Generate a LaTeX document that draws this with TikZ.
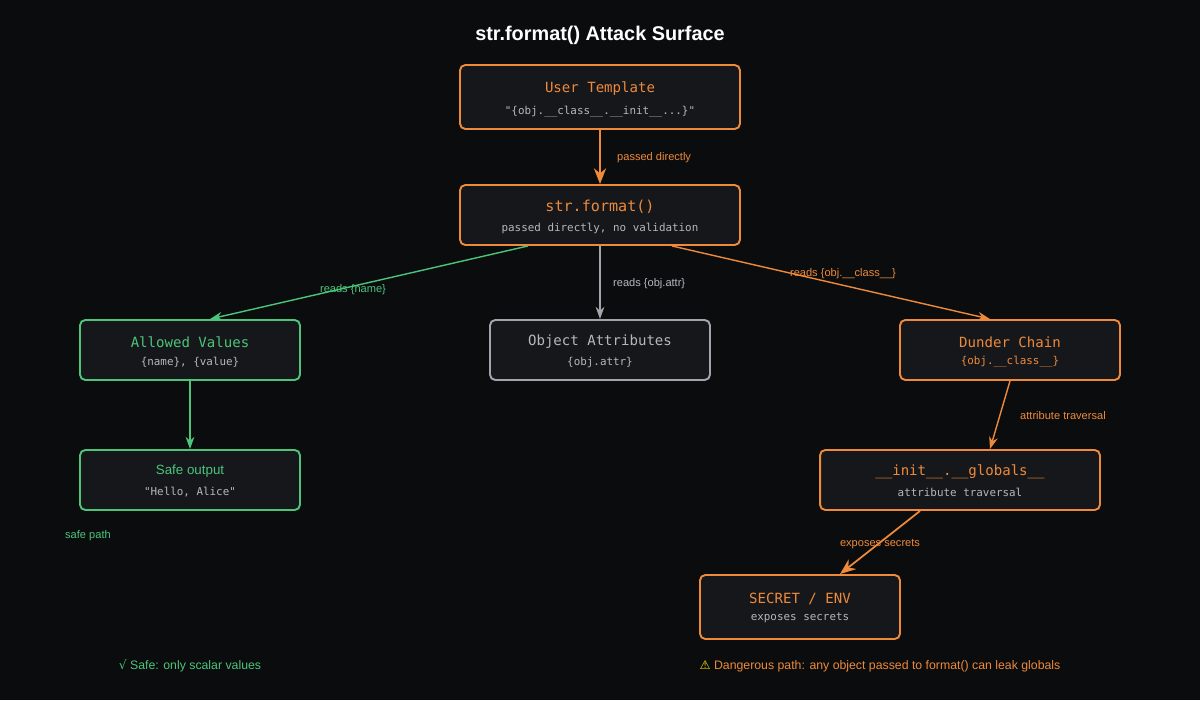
\documentclass[tikz,border=0pt]{standalone}
\usepackage{fontspec}
\setmainfont{Liberation Sans}
\newfontfamily\mono{DejaVu Sans Mono}
\newfontfamily\sym{DejaVu Sans}
\usetikzlibrary{arrows.meta}

\definecolor{bgc}{HTML}{0B0C0E}
\definecolor{boxc}{HTML}{15171B}
\definecolor{orng}{HTML}{EE8A3A}
\definecolor{grn}{HTML}{4CC47A}
\definecolor{gry}{HTML}{A2A6AC}
\definecolor{subc}{HTML}{B4B7BC}

\tikzset{
  box/.style={draw=#1, fill=boxc, line width=1.1pt, rounded corners=3pt,
    minimum width=4.4cm, minimum height=1.2cm, align=center, inner sep=0pt},
  ttl/.style={font=\mono\fontsize{8}{10}\selectfont},
  sub/.style={font=\mono\fontsize{6.2}{8}\selectfont, text=subc},
  lbl/.style={font=\fontsize{6.3}{8}\selectfont},
  big/.style={-{Stealth[length=9pt,width=7pt]}, line width=1pt},
  small/.style={-{Stealth[length=7pt,width=5pt]}, line width=0.8pt}
}

\begin{document}
\begin{tikzpicture}[x=0.02cm,y=-0.02cm]

% Background
\fill[bgc] (0,0) rectangle (1200,700);

% Title
\node[font=\bfseries\fontsize{11.3}{13}\selectfont, text=white] (title) at (600,35) {str.format() Attack Surface};

% Boxes
\node[box=orng, minimum width=5.6cm, minimum height=1.28cm] (tmpl) at (600,97) {};
\node[ttl, text=orng] at (600,89) {User Template};
\node[sub] at (600,112) {"\{obj.\_\_class\_\_.\_\_init\_\_...\}"};

\node[box=orng, minimum width=5.6cm] (fmt) at (600,215) {};
\node[ttl, text=orng, font=\mono\fontsize{8.6}{10}\selectfont] at (600,207) {str.format()};
\node[sub] at (600,228) {passed directly, no validation};

\node[box=grn] (allowed) at (190,350) {};
\node[ttl, text=grn] at (190,342) {Allowed Values};
\node[sub] at (190,362) {\{name\}, \{value\}};

\node[box=gry] (attrs) at (600,350) {};
\node[ttl, text=subc] at (600,342) {Object Attributes};
\node[sub] at (600,362) {\{obj.attr\}};

\node[box=orng] (dunder) at (1010,350) {};
\node[ttl, text=orng] at (1010,342) {Dunder Chain};
\node[sub, text=orng] at (1010,362) {\{obj.\_\_class\_\_\}};

\node[box=grn] (safe) at (190,480) {};
\node[lbl, text=grn, font=\fontsize{7.6}{9}\selectfont] at (190,471) {Safe output};
\node[sub] at (190,492) {"Hello, Alice"};

\node[box=orng, minimum width=5.6cm] (glob) at (960,480) {};
\node[ttl, text=orng] at (960,472) {\_\_init\_\_.\_\_globals\_\_};
\node[sub] at (960,492) {attribute traversal};

\node[box=orng, minimum width=4cm, minimum height=1.28cm] (secret) at (800,607) {};
\node[ttl, text=orng] at (800,599) {SECRET / ENV};
\node[sub] at (800,618) {exposes secrets};

% Connectors
\draw[big, orng] (tmpl) -- (fmt);
\draw[small, grn] ([xshift=-1.44cm]fmt.south) -- ([xshift=0.4cm]allowed.north);
\draw[small, gry] (fmt) -- (attrs);
\draw[small, orng] ([xshift=1.44cm]fmt.south) -- ([xshift=-0.4cm]dunder.north);
\draw[small, grn] (allowed) -- (safe);
\draw[small, orng] (dunder.south) -- ([xshift=0.6cm]glob.north);
\draw[big, orng] ([xshift=-0.8cm]glob.south) -- ([xshift=0.8cm]secret.north);

% Edge labels
\node[lbl, text=orng, anchor=west] at (611,158) {passed directly};
\node[lbl, text=grn] at (353,290) {reads \{name\}};
\node[lbl, text=subc, anchor=west] at (607,284) {reads \{obj.attr\}};
\node[lbl, text=orng] at (843,274) {reads \{obj.\_\_class\_\_\}};
\node[lbl, text=orng, anchor=west] at (1014,416) {attribute traversal};
\node[lbl, text=orng] at (880,544) {exposes secrets};
\node[lbl, text=grn, anchor=west] at (59,536) {safe path};

% Footer notes
\node[lbl, text=grn, font=\fontsize{7}{9}\selectfont] at (190,666) {{\sym √} Safe: only scalar values};
\node[lbl, text=orng, font=\fontsize{7}{9}\selectfont] at (880,666) {{\sym\color{yellow!90!orange}⚠} Dangerous path: any object passed to format() can leak globals};

\end{tikzpicture}
\end{document}
